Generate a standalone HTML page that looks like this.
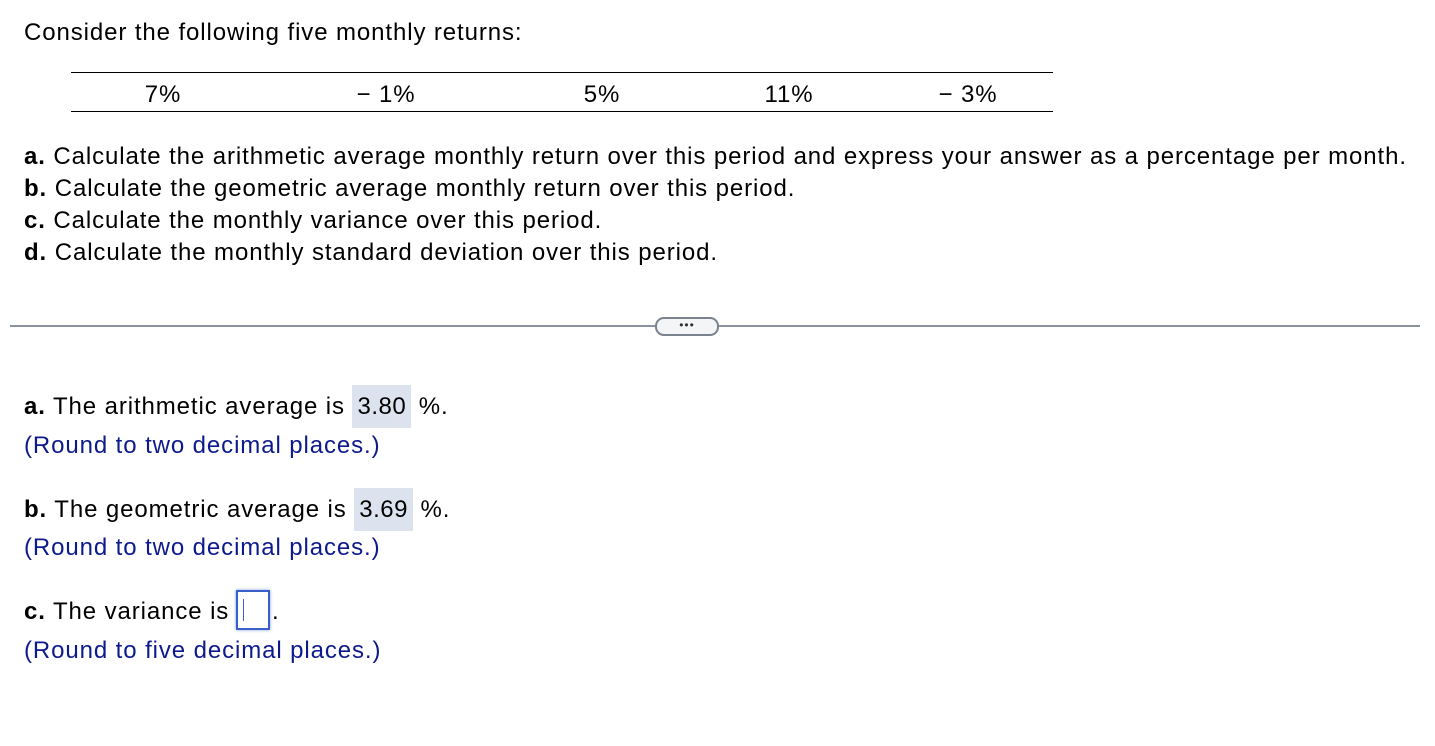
<!DOCTYPE html>
<html><head><style>
body{margin:0;width:1435px;height:746px;background:#fff;font-family:"Liberation Sans",Arial,sans-serif;color:#000;position:relative;overflow:hidden}
.t{position:absolute;white-space:nowrap;font-size:24px;line-height:28px;letter-spacing:0.9px}
.blue{color:#0d1a8c}
.hl{background:#dde3ee;padding:8px 5px;letter-spacing:0.5px}
b{font-weight:bold}
.c{position:absolute;font-size:24px;line-height:28px;letter-spacing:0.9px;transform:translateX(-50%);white-space:nowrap}
</style></head><body>
<div class="t" style="left:24px;top:19px">Consider the following five monthly returns:</div>
<div style="position:absolute;left:71px;top:72px;width:982px;height:1px;background:#000"></div>
<div style="position:absolute;left:71px;top:111px;width:982px;height:1px;background:#000"></div>
<div class="c" style="left:163px;top:81px">7%</div>
<div class="c" style="left:386px;top:81px">− 1%</div>
<div class="c" style="left:602px;top:81px">5%</div>
<div class="c" style="left:789px;top:81px">11%</div>
<div class="c" style="left:968px;top:81px">− 3%</div>
<div class="t" style="left:24px;top:143px"><b>a.</b> Calculate the arithmetic average monthly return over this period and express your answer as a percentage per month.</div>
<div class="t" style="left:24px;top:175px"><b>b.</b> Calculate the geometric average monthly return over this period.</div>
<div class="t" style="left:24px;top:207px"><b>c.</b> Calculate the monthly variance over this period.</div>
<div class="t" style="left:24px;top:239px"><b>d.</b> Calculate the monthly standard deviation over this period.</div>
<div style="position:absolute;left:10px;top:325px;width:1410px;height:2px;background:#8a929e"></div>
<div style="position:absolute;left:655px;top:317px;width:60px;height:15px;border:2px solid #7a828e;border-radius:9px;background:#f4f5f7;text-align:center;font-size:12px;line-height:13px;color:#333;letter-spacing:1px">•••</div>
<div class="t" style="left:24px;top:393px"><b>a.</b> The arithmetic average is <span class="hl">3.80</span> %.</div>
<div class="t blue" style="left:24px;top:432px">(Round to two decimal places.)</div>
<div class="t" style="left:24px;top:496px"><b>b.</b> The geometric average is <span class="hl">3.69</span> %.</div>
<div class="t blue" style="left:24px;top:534px">(Round to two decimal places.)</div>
<div class="t" style="left:24px;top:598px"><b>c.</b> The variance is</div>
<div style="position:absolute;left:236px;top:590px;width:30px;height:36px;border:2px solid #3a5fc8;box-shadow:0 0 3px #7f9ce0"><div style="position:absolute;left:5px;top:7px;width:1px;height:22px;background:#3a5fc8"></div></div>
<div class="t" style="left:272px;top:598px">.</div>
<div class="t blue" style="left:24px;top:637px">(Round to five decimal places.)</div>
</body></html>
